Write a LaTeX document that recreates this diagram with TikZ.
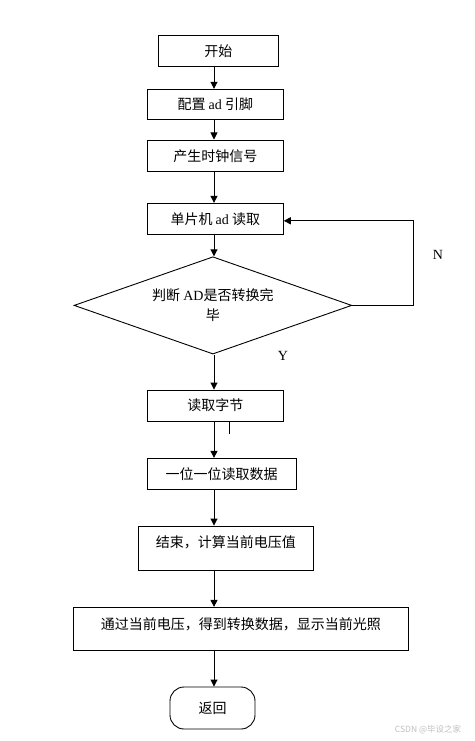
\documentclass[tikz,border=0pt]{standalone}
\usepackage{fontspec}
\setmainfont{Noto Sans CJK SC}
\newfontfamily\tms{Liberation Serif}
\usetikzlibrary{arrows.meta,shapes.geometric}
\tikzset{
  box/.style={draw, line width=0.9pt, inner sep=0pt, font=\fontsize{14}{20}\selectfont},
  flow/.style={draw, line width=0.9pt, -{Triangle[length=7pt,width=7pt]}},
  lbl/.style={font=\fontsize{14}{17}\selectfont\tms}}

\begin{document}
\begin{tikzpicture}[x=1pt,y=-1pt]
  \useasboundingbox (0,0) rectangle (474,741);
  \coordinate (axis) at (214,0);
  \node[box, minimum width=120pt, minimum height=30.7pt] (start) at (218.3,51.3) {开始};
  \node[box, minimum width=136pt, minimum height=30.7pt] (cfg) at (215.3,104.6) {配置 {\tms ad} 引脚};
  \node[box, minimum width=136pt, minimum height=31.7pt] (clk) at (215.3,155.8) {产生时钟信号};
  \node[box, minimum width=136pt, minimum height=31pt] (adc) at (215.3,218.8) {单片机 {\tms ad} 读取};
  \node[box, diamond, aspect=2.85, minimum width=277.7pt, minimum height=97.3pt, align=center] (judge)
    at (212.9,305.4) {判断 {\tms AD}是否转换完\\毕};
  \node[box, minimum width=136pt, minimum height=31pt] (byte) at (215.3,405.5) {读取字节};
  \node[box, minimum width=148.7pt, minimum height=31pt] (bits) at (221.7,473.8) {一位一位读取数据};
  \node[box, minimum width=175pt, minimum height=44pt, text depth=12pt] (calc) at (225.8,548) {结束，计算当前电压值};
  \node[box, minimum width=335pt, minimum height=42.7pt, text depth=10pt] (show) at (240.8,628.7)
    {通过当前电压，得到转换数据，显示当前光照};
  \node[box, rounded corners=14pt, minimum width=85pt, minimum height=42pt] (ret) at (212.5,708) {返回};
  \node[lbl] (nlab) at (438,255) {N};
  \node[lbl] (ylab) at (283,356) {Y};
  \node[text=gray!50, font=\fontsize{8.5}{10}\selectfont] (mark) at (428,730) {CSDN @毕设之家};

  \draw[flow] (start.south -| axis) -- (cfg.north -| axis);
  \draw[flow] (cfg.south -| axis) -- (clk.north -| axis);
  \draw[flow] (clk.south -| axis) -- (adc.north -| axis);
  \draw[flow] (adc.south -| axis) -- (judge.north -| axis);
  \draw[flow] (judge.east) -- ++(61.6,0) |- ([yshift=-2pt]adc.east);
  \draw[flow] (judge.south -| axis) -- (byte.north -| axis);
  \draw[flow] (byte.south -| axis) -- (bits.north -| axis);
  \draw[flow] (bits.south -| axis) -- (calc.north -| axis);
  \draw[flow] (calc.south -| axis) -- (show.north -| axis);
  \draw[flow] (show.south -| axis) -- (ret.north -| axis);
  \draw[line width=1.6pt] (229.5,421) -- (229.5,434);
\end{tikzpicture}
\end{document}
